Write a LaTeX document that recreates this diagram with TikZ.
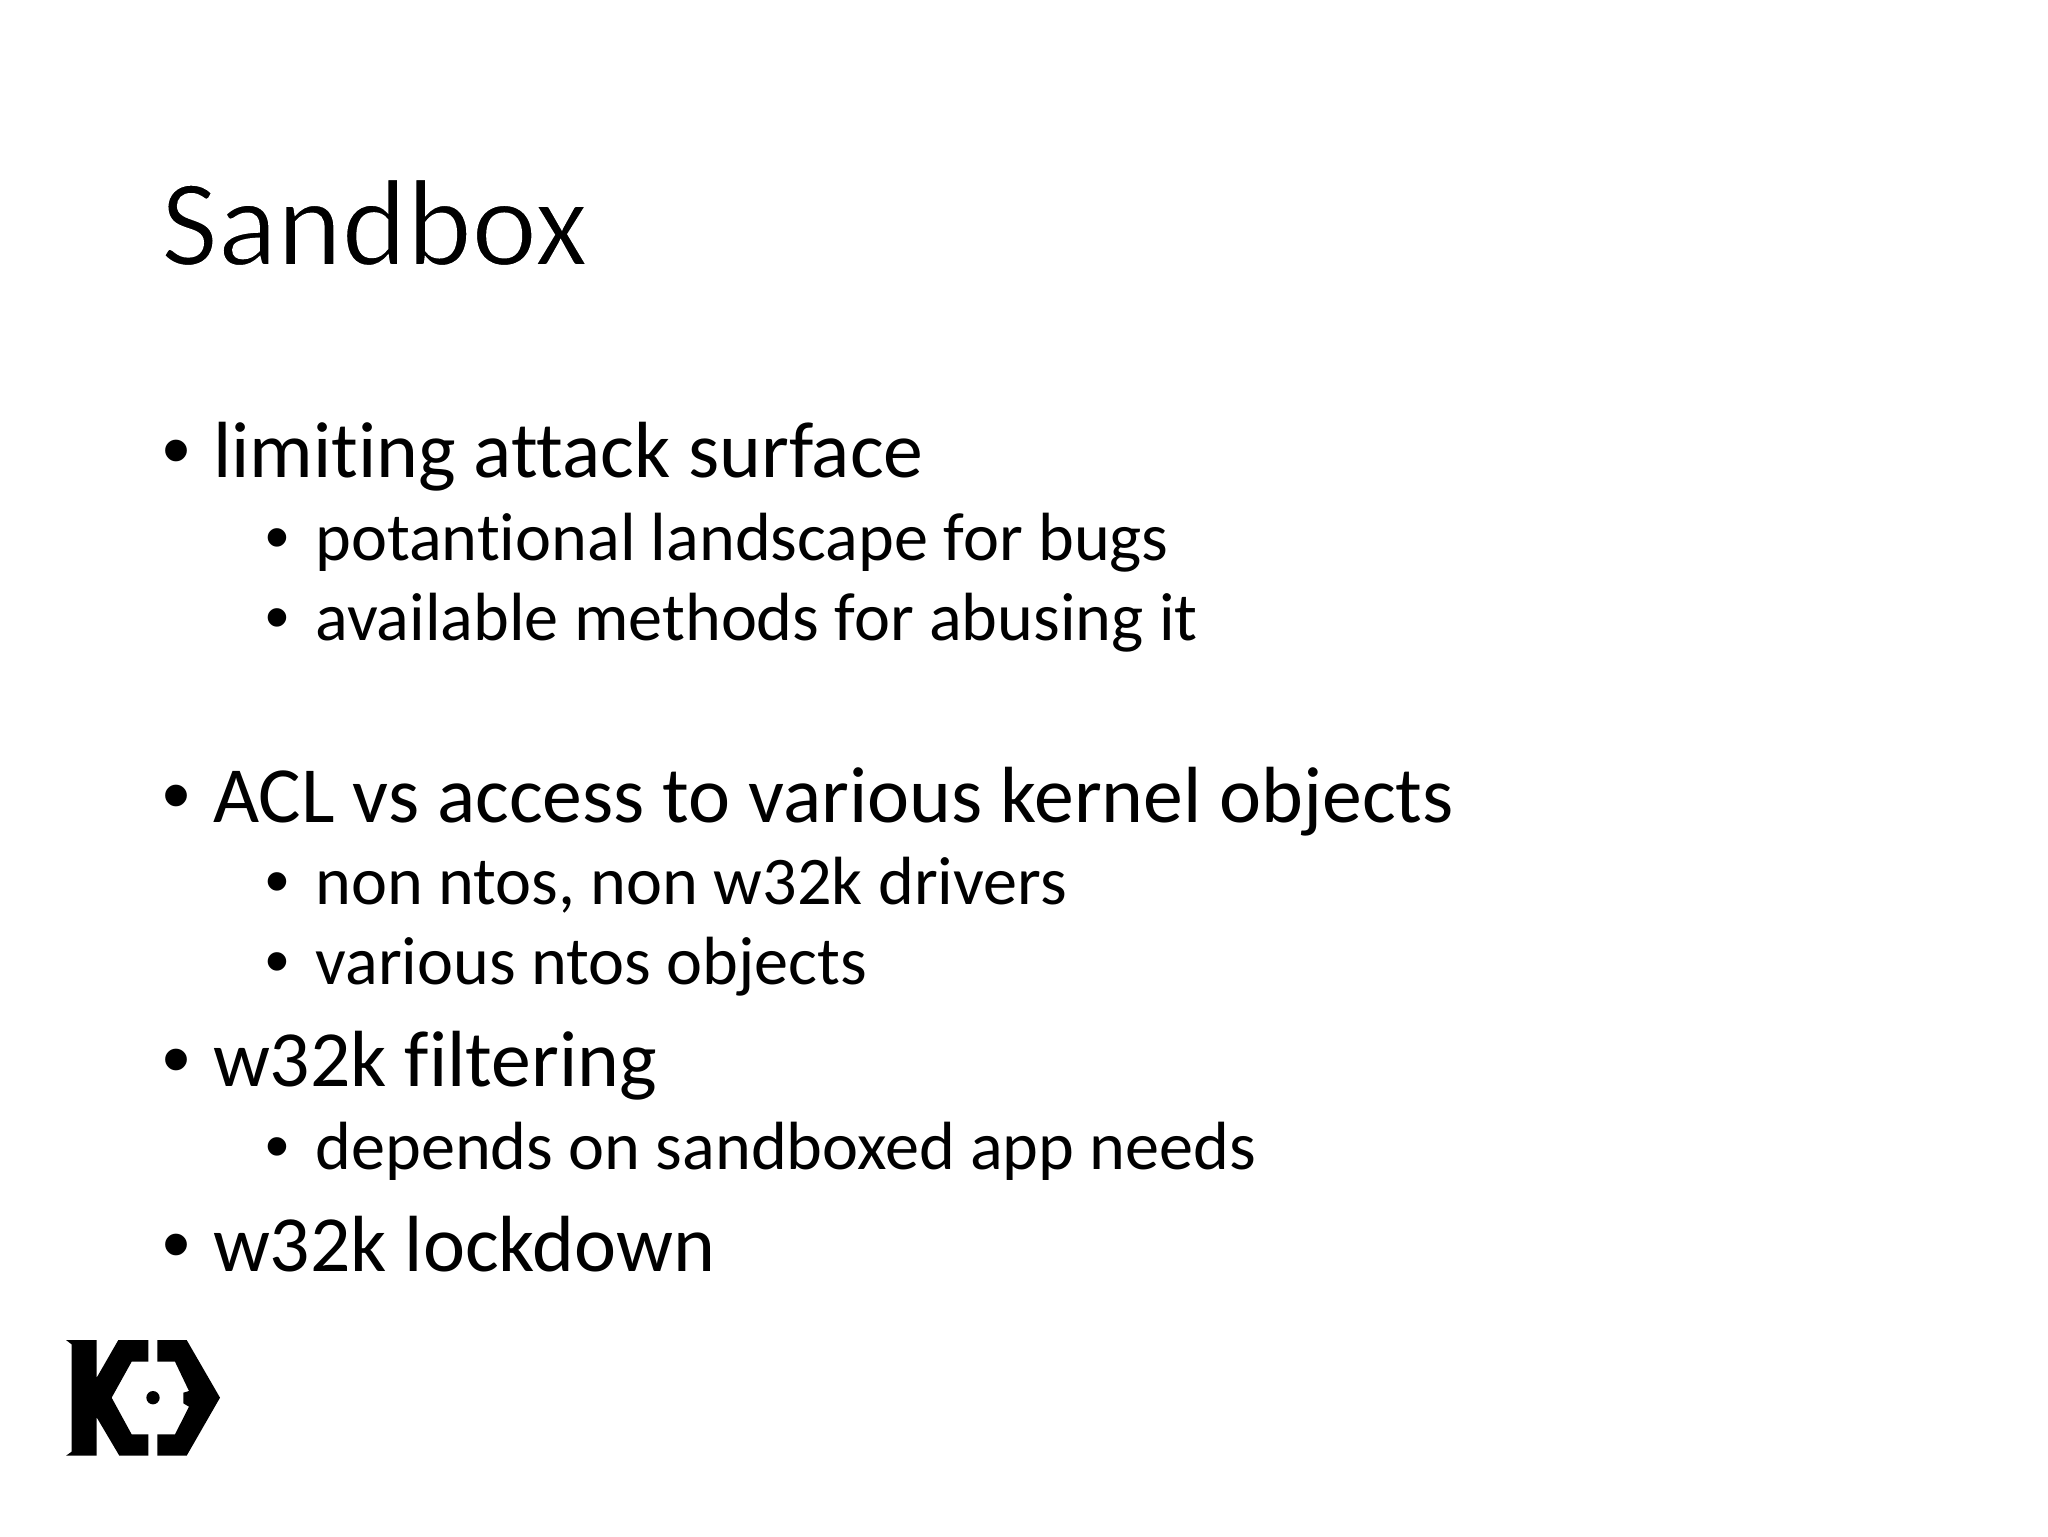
\documentclass[tikz,border=0pt]{standalone}
\usepackage{fontspec}
\setmainfont[Ligatures=CommonOff]{Carlito}
\newfontfamily\bulletfont{Liberation Sans}
\newcommand{\thinglyphs}[1]{\special{pdf:code q 2 Tr 1 1 1 RG 0.9 w}#1\special{pdf:code Q}}
\begin{document}
\begin{tikzpicture}[x=0.5pt,y=-0.5pt,
  every node/.style={inner sep=0pt,outer sep=0pt,anchor=base west,text=black},
  titletext/.style={font=\fontsize{61.8pt}{70pt}\selectfont},
  lvlone/.style={font=\fontsize{39.83pt}{46pt}\selectfont},
  lvltwo/.style={font=\fontsize{34.1pt}{40pt}\selectfont},
  bulone/.style={font=\bulletfont\fontsize{40pt}{46pt}\selectfont},
  bultwo/.style={font=\bulletfont\fontsize{34.1pt}{40pt}\selectfont}]
\useasboundingbox (0,0) rectangle (2048,1536);
\fill[white] (0,0) rectangle (2048,1536);
\node[titletext] (title) at (161,265) {\thinglyphs{Sandbox}};
\node[bulone] (b1) at (162,477) {•};
\node[lvlone] (t1) at (213,477) {limiting attack surface};
\node[bultwo] (b2) at (265,560) {•};
\node[lvltwo] (t2) at (315.5,560) {potantional landscape for bugs};
\node[bultwo] (b3) at (265,640) {•};
\node[lvltwo] (t3) at (315.5,640) {available methods for abusing it};
\node[bulone] (b4) at (162,822) {•};
\node[lvlone] (t4) at (213,822) {ACL vs access to various kernel objects};
\node[bultwo] (b5) at (265,904) {•};
\node[lvltwo] (t5) at (315.5,904) {non ntos, non w32k drivers};
\node[bultwo] (b6) at (265,984) {•};
\node[lvltwo] (t6) at (315.5,984) {various ntos objects};
\node[bulone] (b7) at (162,1086) {•};
\node[lvlone] (t7) at (213,1086) {w32k filtering};
\node[bultwo] (b8) at (265,1169) {•};
\node[lvltwo] (t8) at (315.5,1169) {depends on sandboxed app needs};
\node[bulone] (b9) at (162,1271) {•};
\node[lvlone] (t9) at (213,1271) {w32k lockdown};
\begin{scope}[shift={(40,1310)},x=0.16667pt,y=-0.16667pt]
\fill (78,90)--(170,90)--(170,203)--(235,90)--(325,90)--(325,155)--(275,155)--(215,263)--(275,373)--(325,373)--(325,437)--(238,437)--(170,322)--(170,437)--(78,437)--(95,425)--(95,103)--cycle;
\fill (352,90)--(440,90)--(540,263)--(440,437)--(352,437)--(352,373)--(405,373)--(447,290)--(430,280)--(430,248)--(447,243)--(405,155)--(352,155)--cycle;
\fill (339,263) circle[radius=20];
\end{scope}
\end{tikzpicture}
\end{document}
